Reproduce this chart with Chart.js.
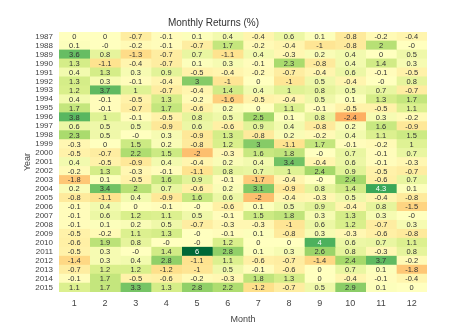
<!DOCTYPE html>
<html><head><meta charset="utf-8">
<script src="https://cdn.jsdelivr.net/npm/chart.js@4.4.1/dist/chart.umd.min.js"></script>
<style>html,body{margin:0;padding:0;background:#fff}#wrap{width:474px;height:325px}</style>
</head><body><div id="wrap"><canvas id="c"></canvas></div>
<script>
const years = ['1987','1988','1989','1990','1991','1992','1993','1994','1995','1996','1997','1998','1999','2000','2001','2002','2003','2004','2005','2006','2007','2008','2009','2010','2011','2012','2013','2014','2015'];
const months = ['1','2','3','4','5','6','7','8','9','10','11','12'];
const r1987 = [0, 0, -0.7, -0.1, 0.1, 0.4, -0.4, 0.6, 0.1, -0.8, -0.2, -0.4];
const r1988 = [0.1, -0, -0.2, -0.1, -0.7, 1.7, -0.2, -0.4, -1, -0.8, 2, -0];
const r1989 = [3.6, 0.8, -1.3, -0.7, 0.7, -1.1, 0.4, -0.3, 0.2, 0.4, 0, 0.5];
const r1990 = [1.3, -1.1, -0.4, -0.7, 0.1, 0.3, -0.1, 2.3, -0.8, 0.4, 1.4, 0.3];
const r1991 = [0.4, 1.3, 0.3, 0.9, -0.5, -0.4, -0.2, -0.7, -0.4, 0.6, -0.1, -0.5];
const r1992 = [1.3, 0.3, -0.1, -0.4, 3, -1, 0, -1, 0.5, -0.4, -0, 0.8];
const r1993 = [1.2, 3.7, 1, -0.7, -0.4, 1.4, 0.4, 1, 0.8, 0.5, 0.7, -0.7];
const r1994 = [0.4, -0.1, -0.5, 1.3, -0.2, -1.6, -0.5, -0.4, 0.5, 0.1, 1.3, 1.7];
const r1995 = [1.7, -0.1, -0.7, 1.7, -0.6, 0.2, 0, 1.1, -0.1, -0.5, -0.5, 1.1];
const r1996 = [3.8, 1, -0.1, -0.5, 0.8, 0.5, 2.5, 0.1, 0.8, -2.4, 0.3, -0.2];
const r1997 = [0.6, 0.5, 0.5, -0.9, 0.6, -0.6, 0.9, 0.4, -0.8, 0.2, 1.6, -0.9];
const r1998 = [2.3, 0.5, -0, 0.3, -0.9, 1.3, -0.8, 0.2, -0.2, 0.4, 1.1, 1.5];
const r1999 = [-0.3, 0, 1.5, 0.2, -0.8, 1.2, 3, -1.1, 1.7, -0.1, -0.2, 1];
const r2000 = [-0.5, -0.7, 2.2, 1.5, -2, -0.3, 1.6, 1.8, -0, 0.7, -0.1, 0.7];
const r2001 = [0.4, -0.5, -0.9, 0.4, -0.4, 0.2, 0.4, 3.4, -0.4, 0.6, -0.1, -0.3];
const r2002 = [-0.2, 1.3, -0.3, -0.1, -1.1, 0.8, 0.7, 1, 2.4, 0.9, -0.5, -0.7];
const r2003 = [-1.8, 0.1, -0.5, 1.6, 0.9, -0.1, -1.7, -0.4, -0, 2.4, -0.6, 0.7];
const r2004 = [0.2, 3.4, 2, 0.7, -0.6, 0.2, 3.1, -0.9, 0.8, 1.4, 4.3, 0.1];
const r2005 = [-0.8, -1.1, 0.4, -0.9, 1.6, 0.6, -2, -0.4, -0.3, 0.5, -0.4, -0.8];
const r2006 = [-0.1, 0.4, 0, -0.1, -0, -0.6, 0.1, 0.5, 0.9, -0.4, 0.8, -1.5];
const r2007 = [-0.1, 0.6, 1.2, 1.1, 0.5, -0.1, 1.5, 1.8, 0.3, 1.3, 0.3, -0];
const r2008 = [-0.1, 0.1, 0.2, 0.5, -0.7, -0.3, -0.3, -1, 0.6, 1.2, -0.7, 0.3];
const r2009 = [-0.5, -0.2, 1.1, 1.3, -0, -0.1, 0.1, -0.8, 0.3, -0.3, -0.6, -0.8];
const r2010 = [-0.6, 1.9, 0.8, -0, -0, 1.2, 0, 0, 4, 0.6, 0.7, 1.1];
const r2011 = [-0.5, 0.3, -0, 1.4, 6, 2.8, 0.1, 0.3, 2.6, 0.8, -0.3, 0.8];
const r2012 = [-1.4, 0.3, 0.4, 2.8, -1.1, 1.1, -0.6, -0.7, -1.4, 2.4, 3.7, -0.2];
const r2013 = [-0.7, 1.2, 1.2, -1.2, -1, 0.5, -0.1, -0.6, 0, 0.7, 0.1, -1.8];
const r2014 = [-0.1, 1.7, -0.5, -0.6, -0.2, -0.3, 1.8, 1.3, 0, -0.4, -0.1, -0.4];
const r2015 = [1.1, 1.7, 3.3, 1.3, 2.8, 2.2, -1.2, -0.7, 0.5, 2.9, 0.1, 0];

const rows = [r1987,r1988,r1989,r1990,r1991,r1992,r1993,r1994,r1995,r1996,r1997,r1998,r1999,r2000,r2001,r2002,r2003,r2004,r2005,r2006,r2007,r2008,r2009,r2010,r2011,r2012,r2013,r2014,r2015];

const anchors = ['#a50026','#d73027','#f46d43','#fdae61','#fee08b','#ffffbf','#d9ef8b','#a6d96a','#66bd63','#1a9850','#006837'];
function hex(h){return [parseInt(h.slice(1,3),16),parseInt(h.slice(3,5),16),parseInt(h.slice(5,7),16)];}
function cmap(v){
  let t=(v+6)/12; t=Math.max(0,Math.min(1,t));
  const p=t*10, i=Math.min(9,Math.floor(p)), f=p-i;
  const a=hex(anchors[i]), b=hex(anchors[i+1]);
  const c=a.map((x,k)=>Math.round(x+(b[k]-x)*f));
  return 'rgb('+c.join(',')+')';
}
function fmt(v){return Object.is(v,-0)?'-0':String(v);}

const datasets = months.map((m,mi)=>({
  label: m,
  data: years.map(()=>[mi, mi+1]),
  backgroundColor: rows.map(r=>cmap(r[mi])),
  borderWidth: 0,
  barPercentage: 1.0,
  categoryPercentage: 1.0,
  grouped: false,
  xAxisID: 'x'
}));

const textPlugin = {
  id: 'cellText',
  afterDatasetsDraw(chart){
    const ctx = chart.ctx;
    ctx.save();
    ctx.font = '7.5px "Liberation Sans", Arial, sans-serif';
    ctx.textAlign = 'center';
    ctx.textBaseline = 'middle';
    chart.data.datasets.forEach((ds,mi)=>{
      const meta = chart.getDatasetMeta(mi);
      meta.data.forEach((el,yi)=>{
        const v = rows[yi][mi];
        const cx = (el.x + el.base)/2;
        ctx.fillStyle = v >= 3.9 ? '#ffffff' : '#333333';
        ctx.fillText(fmt(v), cx, el.y + 0.5);
      });
    });
    ctx.restore();
  }
};

Chart.defaults.font.family = '"Liberation Sans", Arial, sans-serif';
Chart.defaults.color = '#333333';

new Chart(document.getElementById('c'), {
  type: 'bar',
  data: { labels: years, datasets },
  options: {
    indexAxis: 'y',
    responsive: true,
    maintainAspectRatio: false,
    animation: false,
    layout: { padding: { left: 0, right: 47, top: 0, bottom: 0 } },
    plugins: {
      legend: { display: false },
      tooltip: { enabled: false },
      title: { display: true, text: 'Monthly Returns (%)', font: { size: 10, weight: 'normal' }, color: '#333', padding: { top: 17, bottom: 3 } },
    },
    scales: {
      x: { type: 'linear', min: 0, max: 12, display: false },
      x2: { type: 'category', labels: months, position: 'bottom', offset: true,
            grid: { display: false, drawTicks: false }, border: { display: false },
            ticks: { font: { size: 9 }, color: '#444', padding: 6 },
            title: { display: true, text: 'Month', font: { size: 9 }, color: '#444', padding: { top: 1, bottom: 0 } },
            afterFit(s){ s.height = 33; } },
      y: { type: 'category', offset: true,
           grid: { display: false, drawTicks: false }, border: { display: false },
           ticks: { font: { size: 8 }, color: '#444', padding: 6, autoSkip: false },
           title: { display: true, text: 'Year', font: { size: 9 }, color: '#444', padding: { top: 22, bottom: 0 } },
           afterFit(s){ s.width = 59; } }
    }
  },
  plugins: [textPlugin]
});
</script></body></html>
